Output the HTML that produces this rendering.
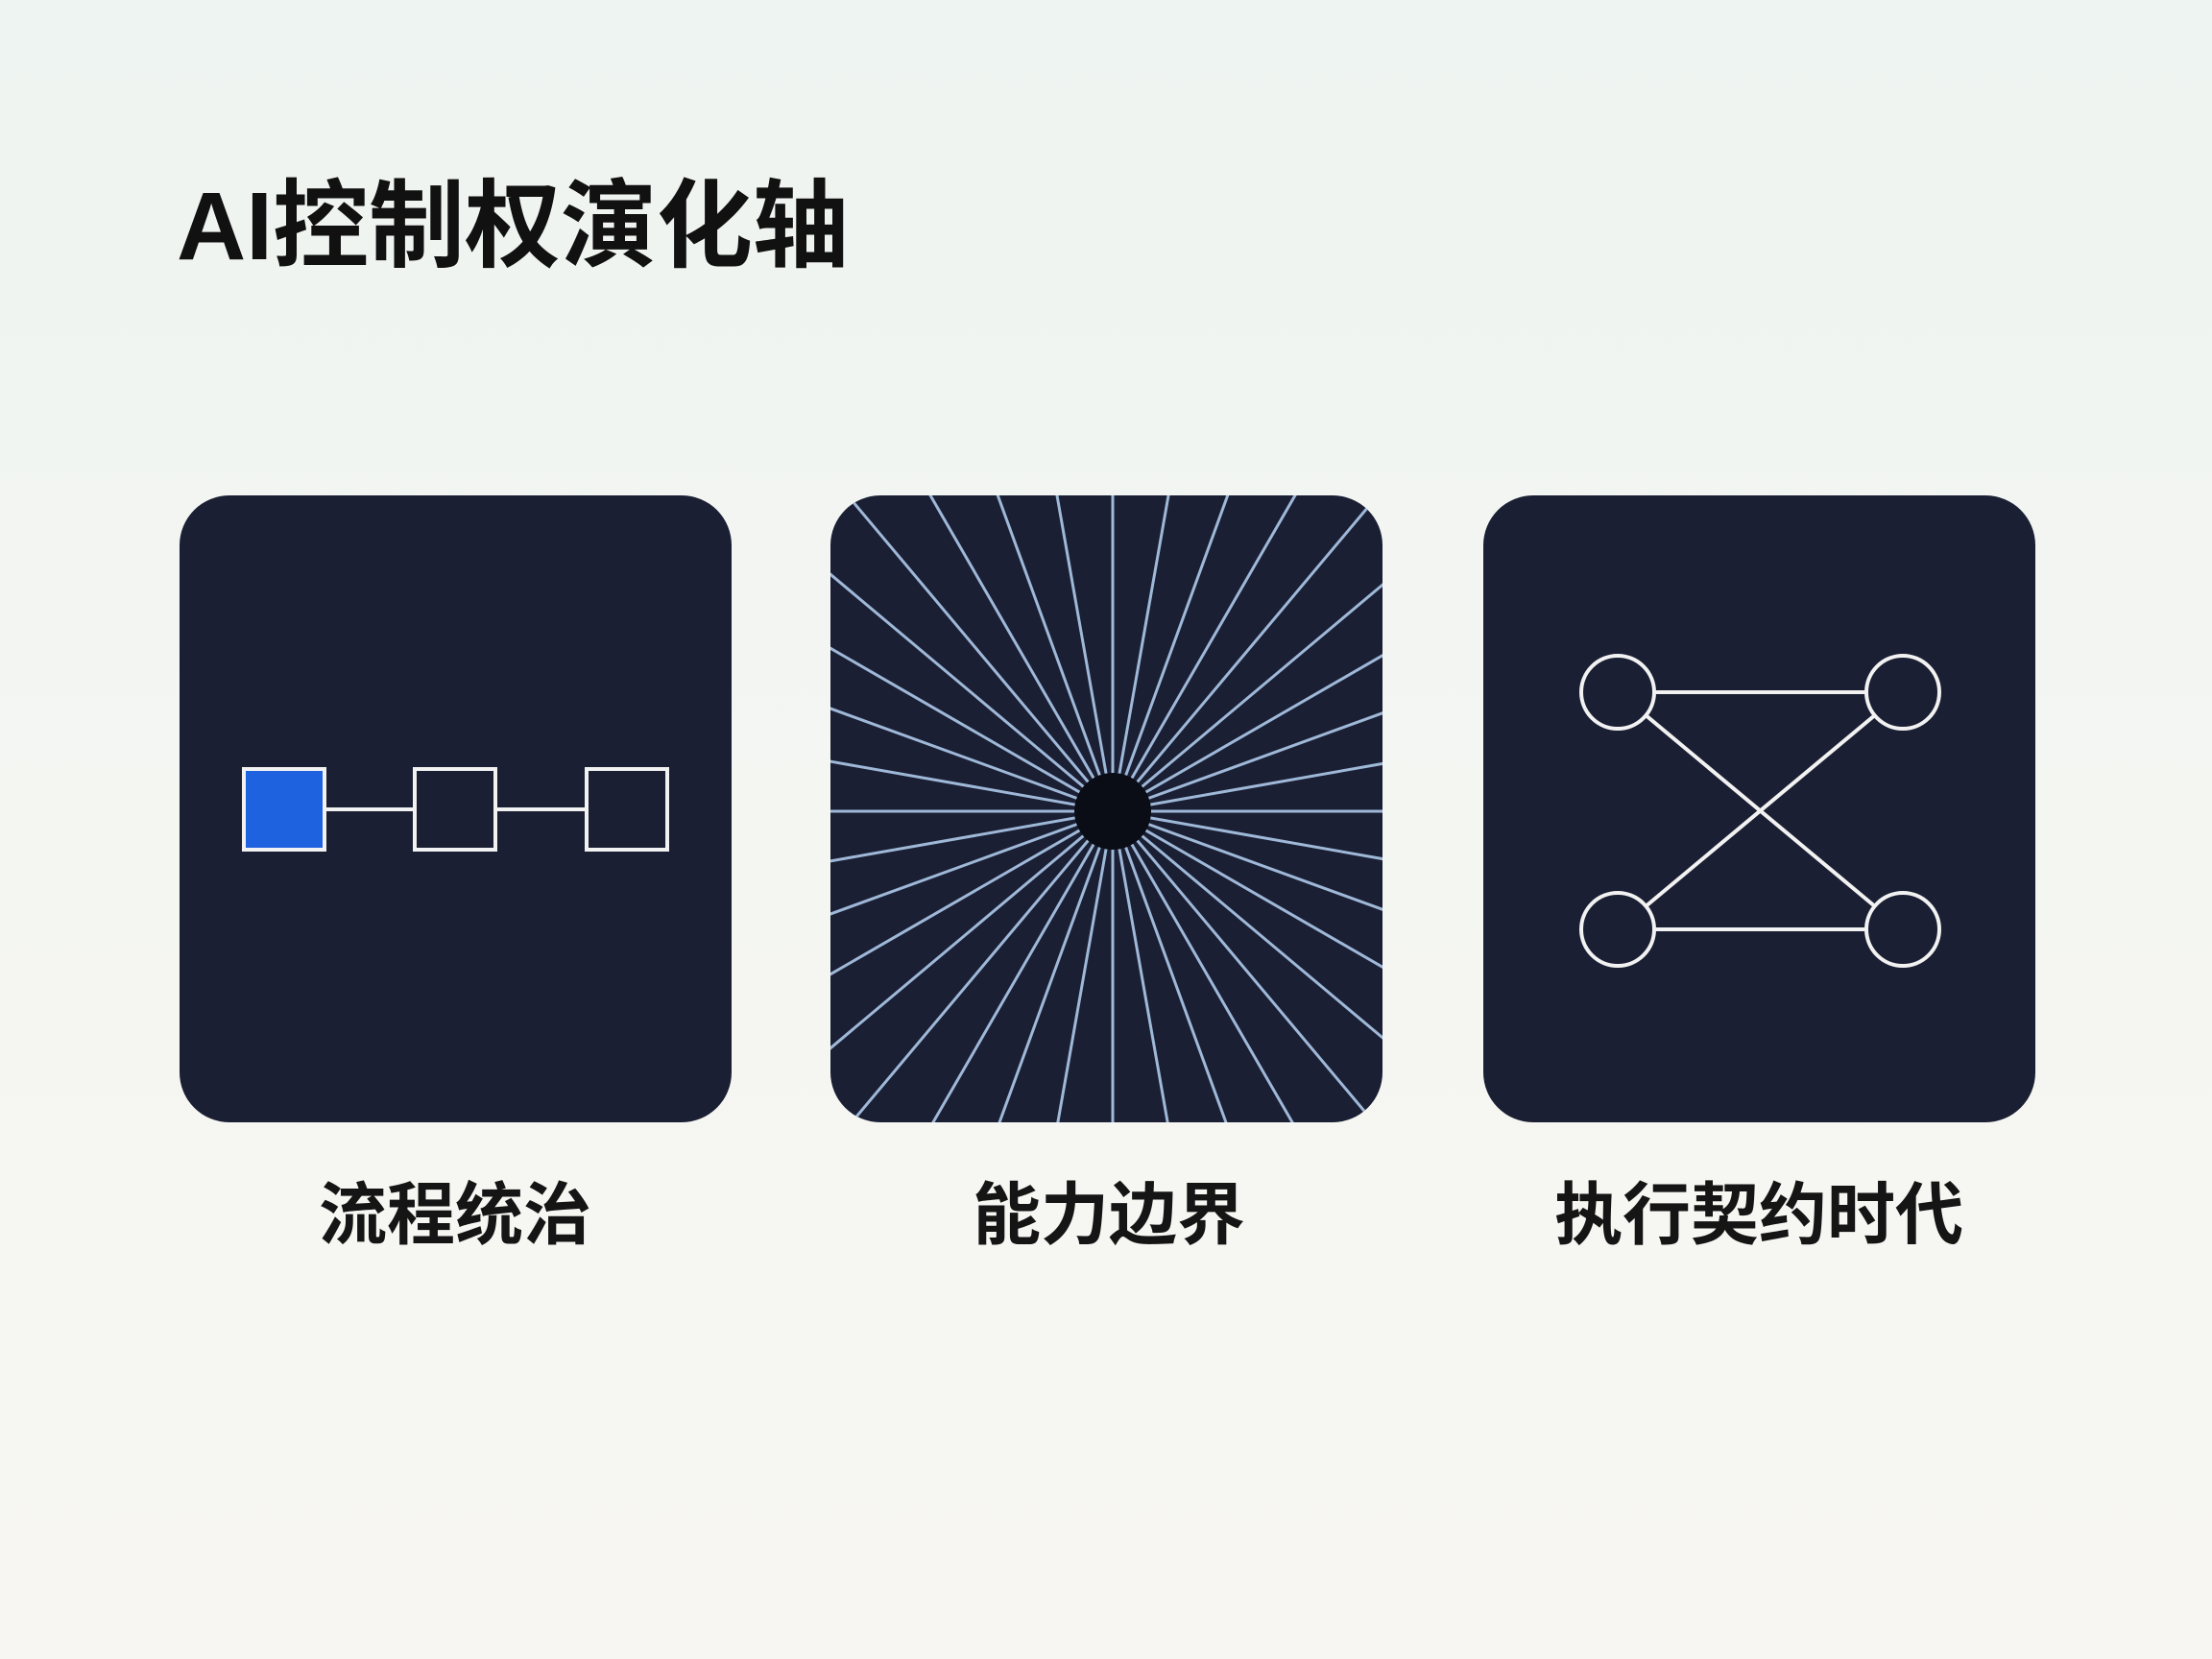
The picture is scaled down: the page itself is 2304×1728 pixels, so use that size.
<!DOCTYPE html>
<html><head><meta charset="utf-8"><style>
html,body{margin:0;padding:0}
body{width:2304px;height:1728px;background:linear-gradient(180deg,#eef4f1 0%,#f5f6f2 60%,#f7f6f2 100%);overflow:hidden}
svg{display:block}
</style></head><body>
<svg width="2304" height="1728" viewBox="0 0 2304 1728" xmlns="http://www.w3.org/2000/svg">
<defs>
<clipPath id="c2"><rect x="865" y="516" width="575" height="653" rx="52"/></clipPath>
</defs>
<text x="184" y="270" font-family="Liberation Sans, Noto Sans CJK SC, sans-serif" font-weight="bold" font-size="100" fill="#111">AI控制权演化轴</text>

<rect x="187" y="516" width="575" height="653" rx="52" fill="#1a1f33"/>
<rect x="865" y="516" width="575" height="653" rx="52" fill="#1a1f33"/>
<rect x="1545" y="516" width="575" height="653" rx="52" fill="#1a1f33"/>

<g stroke="#f2f2f2" stroke-width="4" fill="none">
<line x1="338" y1="843" x2="432" y2="843"/>
<line x1="516" y1="843" x2="611" y2="843"/>
<rect x="432" y="801" width="84" height="84"/>
<rect x="611" y="801" width="84" height="84"/>
</g>
<rect x="254" y="801" width="84" height="84" fill="#1f62e0" stroke="#f2f2f2" stroke-width="4"/>

<g clip-path="url(#c2)">
<path stroke="#9fb8d8" stroke-width="3" fill="none" d="
M1159 845l700 0M1159 845l689.4 121.6M1159 845l657.8 239.4M1159 845l606.2 350M1159 845l536.2 450M1159 845l450 536.2M1159 845l350 606.2M1159 845l239.4 657.8M1159 845l121.6 689.4M1159 845l0 700
M1159 845l-121.6 689.4M1159 845l-239.4 657.8M1159 845l-350 606.2M1159 845l-450 536.2M1159 845l-536.2 450M1159 845l-606.2 350M1159 845l-657.8 239.4M1159 845l-689.4 121.6M1159 845l-700 0
M1159 845l-689.4 -121.6M1159 845l-657.8 -239.4M1159 845l-606.2 -350M1159 845l-536.2 -450M1159 845l-450 -536.2M1159 845l-350 -606.2M1159 845l-239.4 -657.8M1159 845l-121.6 -689.4M1159 845l0 -700
M1159 845l121.6 -689.4M1159 845l239.4 -657.8M1159 845l350 -606.2M1159 845l450 -536.2M1159 845l536.2 -450M1159 845l606.2 -350M1159 845l657.8 -239.4M1159 845l689.4 -121.6"/>
</g>
<circle cx="1159" cy="845" r="40" fill="#0a0d16"/>

<g stroke="#f2f2f2" stroke-width="4" fill="none">
<line x1="1723" y1="721" x2="1944" y2="721"/>
<line x1="1723" y1="968" x2="1944" y2="968"/>
<line x1="1713" y1="744" x2="1954" y2="945"/>
<line x1="1954" y1="744" x2="1713" y2="945"/>
<circle cx="1685" cy="721" r="38"/>
<circle cx="1982" cy="721" r="38"/>
<circle cx="1685" cy="968" r="38"/>
<circle cx="1982" cy="968" r="38"/>
</g>

<g font-family="Liberation Sans, Noto Sans CJK SC, sans-serif" font-weight="bold" font-size="71" fill="#151515" text-anchor="middle">
<text x="474" y="1290">流程统治</text>
<text x="1155" y="1290">能力边界</text>
<text x="1832" y="1290">执行契约时代</text>
</g>
</svg>
</body></html>
